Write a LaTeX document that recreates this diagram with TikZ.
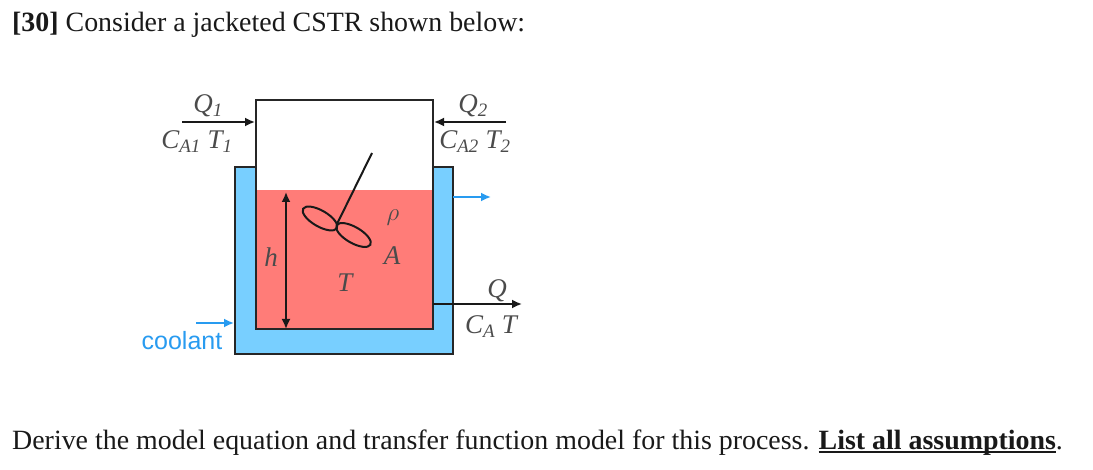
\documentclass[tikz,border=0pt]{standalone}
\usepackage{fontspec}
\usepackage{xcolor}
\setmainfont{Liberation Serif}
\setsansfont{Liberation Sans}
\usetikzlibrary{arrows.meta}
\definecolor{jacketblue}{RGB}{120,207,255}
\definecolor{liquidred}{RGB}{255,124,120}
\definecolor{coolantblue}{RGB}{40,155,240}
\definecolor{labelgray}{RGB}{75,75,75}
\newlength\ulwd
\newcommand{\heavyul}[1]{\settowidth{\ulwd}{#1}\rlap{\rule[-4pt]{\ulwd}{2pt}}#1}
\tikzset{wall/.style={draw=black!85,line width=1.8pt},
 stirrer/.style={draw=black!90,line width=2pt},
 flow/.style={-{Latex[length=10pt,width=9pt]},line width=1.8pt,black!90},
 coolflow/.style={-{Latex[length=10pt,width=9pt]},line width=1.8pt,coolantblue},
 lab/.style={inner sep=0pt,text=labelgray,font=\fontsize{27}{30}\selectfont\itshape},
 heading/.style={inner sep=0pt,anchor=base west,text=black!90,font=\fontsize{27.9}{32}\selectfont},
 }
\begin{document}
\begin{tikzpicture}[x=1pt,y=-1pt]
        \useasboundingbox (0,0) rectangle (1093,470);
        % jacket and liquid
        \draw[wall,fill=jacketblue] (235,167) rectangle (453,354);
        \fill[white] (256,100) rectangle (433,190);
        \fill[liquidred] (256,190) rectangle (433,329);
        \draw[wall] (256,329) -- (256,100) -- (433,100) -- (433,329) -- cycle;
        % stirrer
        \coordinate (shafttop) at (372,153);
        \coordinate (hub) at (337,224);
        \draw[stirrer] (shafttop) -- (hub);
        \draw[stirrer,rotate around={-30:(320,218.5)}] (320,218.5) ellipse (19.5pt and 8pt);
        \draw[stirrer,rotate around={-30:(353.5,235)}] (353.5,235) ellipse (19.5pt and 8pt);
        % level
        \coordinate (levtop) at (286,192);
        \coordinate (levbot) at (286,329);
        \draw[flow,{Latex[length=10pt,width=9pt]}-{Latex[length=10pt,width=9pt]}] (levtop) -- (levbot);
        % streams
        \coordinate (in1a) at (182,122);
        \coordinate (in1b) at (255,122);
        \coordinate (in2a) at (506,122);
        \coordinate (in2b) at (434,122);
        \coordinate (outa) at (433,304);
        \coordinate (outb) at (522,304);
        \coordinate (cool1a) at (196,323);
        \coordinate (cool1b) at (234,323);
        \coordinate (cool2a) at (453,197);
        \coordinate (cool2b) at (491,197);
        \draw[flow] (in1a) -- (in1b);
        \draw[flow] (in2a) -- (in2b);
        \draw[flow] (outa) -- (outb);
        \draw[coolflow] (cool1a) -- (cool1b);
        \draw[coolflow] (cool2a) -- (cool2b);
        % labels
        \node[lab] (q1) at (208,106) {Q\textsubscript{1}};
        \node[lab] (in1) at (197,142) {C\textsubscript{A1} T\textsubscript{1}};
        \node[lab] (q2) at (473,106) {Q\textsubscript{2}};
        \node[lab] (in2) at (475,142) {C\textsubscript{A2} T\textsubscript{2}};
        \node[lab] (q) at (497,291) {Q};
        \node[lab] (out) at (491,327) {C\textsubscript{A} T};
        \node[lab] (rho) at (393,218) {$\rho$};
        \node[lab] (a) at (392,256) {A};
        \node[lab] (t) at (345,283) {T};
        \node[lab] (h) at (271,257) {h};
        \node[inner sep=0pt,text=coolantblue,font=\sffamily\fontsize{25}{28}\selectfont] (coolant) at (182,341) {coolant};
        \node[heading] (title) at (12,32) {\textbf{[30]} Consider a jacketed CSTR shown below:};
        \node[heading] (task) at (12,449) {Derive the model equation and transfer function model for this process. \heavyul{\textbf{List all assumptions}}.};
    \end{tikzpicture}
\end{document}
